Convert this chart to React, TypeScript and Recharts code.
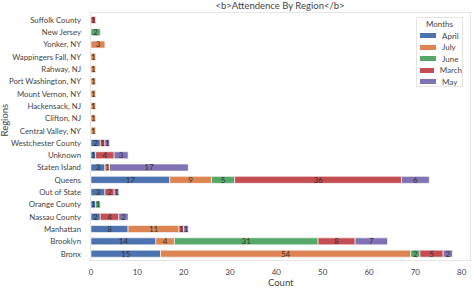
import React from 'react';
import { BarChart, Bar, XAxis, YAxis, Legend, LabelList } from 'recharts';

const regions = [
  'Suffolk County', 'New Jersey', 'Yonker, NY', 'Wappingers Fall, NY', 'Rahway, NJ',
  'Port Washington, NY', 'Mount Vernon, NY', 'Hackensack, NJ', 'Clifton, NJ', 'Central Valley, NY',
  'Westchester County', 'Unknown', 'Staten Island', 'Queens', 'Out of State',
  'Orange County', 'Nassau County', 'Manhattan', 'Brooklyn', 'Bronx',
];

const april = [0, 0, 0, 0, 0, 0, 0, 0, 0, 0, 2, 1, 3, 17, 3, 1, 2, 8, 14, 15];
const july = [0, 0, 3, 1, 1, 1, 1, 1, 1, 1, 0, 0, 1, 9, 0, 0, 0, 11, 4, 54];
const june = [0, 2, 0, 0, 0, 0, 0, 0, 0, 0, 0, 0, 0, 5, 0, 1, 0, 0, 31, 2];
const march = [1, 0, 0, 0, 0, 0, 0, 0, 0, 0, 1, 4, 0, 36, 2, 0, 4, 1, 8, 5];
const may = [0, 0, 0, 0, 0, 0, 0, 0, 0, 0, 1, 3, 17, 6, 1, 0, 2, 1, 7, 2];

const xTicks = [0, 10, 20, 30, 40, 50, 60, 70, 80];

const series = [
  { key: 'April', values: april, color: '#4C72B0' },
  { key: 'July', values: july, color: '#DD8452' },
  { key: 'June', values: june, color: '#55A868' },
  { key: 'March', values: march, color: '#C44E52' },
  { key: 'May', values: may, color: '#8172B3' },
];

const data = regions.map((region, i) => {
  const row: Record<string, string | number | null> = { region };
  series.forEach((s) => {
    row[s.key] = s.values[i] ? s.values[i] : null;
  });
  return row;
});

const FONT = 'Lato, "DejaVu Sans", sans-serif';
const TEXT = '#444';

const MonthsLegend = (props: any) => {
  const payload = props.payload || [];
  return (
    <div
      style={{
        width: 47,
        height: 70,
        border: '1px solid #e4e4e4',
        background: '#fff',
        fontFamily: FONT,
        fontSize: 8,
        color: TEXT,
        boxSizing: 'border-box',
      }}
    >
      <div style={{ textAlign: 'center', marginTop: 1, lineHeight: '11px' }}>Months</div>
      {payload.map((p: any) => (
        <div key={p.value} style={{ display: 'flex', alignItems: 'center', height: 11.5 }}>
          <span
            style={{
              display: 'inline-block',
              width: 16,
              height: 5,
              background: p.color,
              marginLeft: 3,
              marginRight: 6,
            }}
          />
          <span>{p.value}</span>
        </div>
      ))}
    </div>
  );
};

const RegionTick = (props: any) => {
  const { x, y, payload } = props;
  return (
    <text x={x} y={y} dy="0.35em" textAnchor="end" fontSize={7.8} fill={TEXT} fontFamily={FONT}>
      {payload.value}
    </text>
  );
};

const hideZero = (v: any) => (v ? v : '');

export default function App() {
  return (
    <div style={{ position: 'absolute', left: 0, top: 0, width: 474, height: 288, background: '#fff' }}>
      <div
        style={{
          position: 'absolute',
          left: 0,
          top: 0,
          width: 474,
          textAlign: 'center',
          paddingLeft: 86,
          boxSizing: 'border-box',
          fontFamily: FONT,
          fontSize: 9.5,
          color: TEXT,
          lineHeight: '12px',
        }}
      >
        {'<b>Attendence By Region</b>'}
      </div>
      <div
        style={{
          position: 'absolute',
          left: 90,
          top: 12,
          width: 381,
          height: 249,
          border: '1px solid #e6e6e6',
          boxSizing: 'border-box',
        }}
      />
      <BarChart
        width={474}
        height={288}
        data={data}
        layout="vertical"
        margin={{ top: 12, right: 3.5, bottom: 0, left: 0 }}
        barCategoryGap="20%"
        style={{ fontFamily: FONT }}
      >
        <XAxis
          type="number"
          domain={[0, 81.9]}
          ticks={xTicks}
          axisLine={false}
          tickLine={false}
          tick={{ fontSize: 8, fill: TEXT }}
          tickMargin={2}
          height={27}
          label={{ value: 'Count', position: 'insideBottom', offset: 2, fontSize: 9.5, fill: TEXT }}
        />
        <YAxis
          type="category"
          dataKey="region"
          width={91}
          axisLine={false}
          tickLine={false}
          tick={<RegionTick />}
          tickMargin={4}
          interval={0}
          padding={{ top: 2, bottom: 1 }}
          label={{ value: 'Regions', angle: -90, position: 'insideLeft', offset: 5, fontSize: 9.5, fill: TEXT }}
        />
        <Legend
          layout="vertical"
          align="center"
          verticalAlign="middle"
          wrapperStyle={{ left: 416, top: 17, width: 47 }}
          content={<MonthsLegend />}
        />
        {series.map((s) => (
          <Bar
            key={s.key}
            dataKey={s.key}
            stackId="a"
            fill={s.color}
            stroke="#ffffff"
            strokeWidth={0.6}
            isAnimationActive={false}
          >
            <LabelList dataKey={s.key} position="center" formatter={hideZero} fontSize={8} fill="#333" />
          </Bar>
        ))}
      </BarChart>
    </div>
  );
}
